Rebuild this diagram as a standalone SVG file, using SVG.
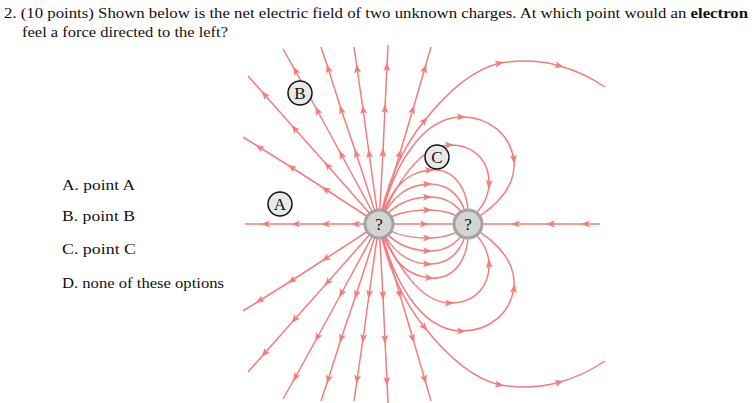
<svg xmlns="http://www.w3.org/2000/svg" width="753" height="403" viewBox="0 0 753 403">
<style>
.t{font-family:"Liberation Serif","DejaVu Serif",serif;font-size:15px;fill:#111}
.f{fill:none;stroke:#f47c7c;stroke-width:1.5;marker-mid:url(#ar)}
.pt{fill:#e8e8e8;stroke:#111;stroke-width:1.5}
.pl{font-family:"Liberation Serif","DejaVu Serif",serif;font-size:17px;fill:#111;text-anchor:middle}
.q{fill:#d4d4d4;stroke:#a3a3a3;stroke-width:3}
</style>
<defs>
<marker id="ar" markerUnits="userSpaceOnUse" markerWidth="12" markerHeight="12" refX="0" refY="0" viewBox="-6 -6 12 12" orient="auto"><path d="M-5,-3.5 L4,0 L-5,3.5 L-3,0 z" fill="#f47c7c"/></marker>
<g id="half">
<polyline class="f" points="379,224 325,189 291,167 259,147 243,137"/>
<polyline class="f" points="379,224 327,165 294,128 264,94 248,76"/>
<polyline class="f" points="379,224 341,154 317,110 295,70 283,49"/>
<polyline class="f" points="379,224 356,153 341,109 328,68 321,47"/>
<polyline class="f" points="379,224 369,153 363,109 357,68 354,47"/>
<polyline class="f" points="379,224 383,152 385,108 387,66 388,45"/>
<polyline class="f" points="379,224 400,153 413,109 425,68 431,47"/>
<path class="f" d="M379,224 C385,190 400,150 425,120 C445,95 470,70 500,63 C520,60 540,60 560,66 C575,70 590,77 605,87"/>
<path class="f" d="M379,224 C392,170 420,117 462,117 C490,117 510,135 514,160 C516,185 500,205 470,222"/>
<path class="f" d="M379,224 C395,185 420,145 450,145 C478,145 490,165 489,185 C488,200 480,210 468,222"/>
<path class="f" d="M379,224 C392,185 408,172 430,170 C455,168 470,190 468,222"/>
<path class="f" d="M379,224 C392,195 408,185 428,184 C450,183 464,198 468,224"/>
<path class="f" d="M379,224 C392,205 408,198 428,197 C448,196 462,208 468,224"/>
<path class="f" d="M379,224 C392,214 408,210 428,210 C446,210 460,216 468,224"/>
</g>
</defs>
<text class="t" x="4" y="18" textLength="744" lengthAdjust="spacingAndGlyphs">2.  (10 points) Shown below is the net electric field of two unknown charges.  At which point would an <tspan font-weight="bold">electron</tspan></text>
<text class="t" x="22" y="37" textLength="206" lengthAdjust="spacingAndGlyphs">feel a force directed to the left?</text>
<text class="t" x="62" y="190" textLength="73" lengthAdjust="spacingAndGlyphs">A.  point A</text>
<text class="t" x="62" y="221" textLength="73" lengthAdjust="spacingAndGlyphs">B.  point B</text>
<text class="t" x="62" y="254" textLength="74" lengthAdjust="spacingAndGlyphs">C.  point C</text>
<text class="t" x="62" y="288" textLength="162" lengthAdjust="spacingAndGlyphs">D.  none of these options</text>
<g id="connectors">
<use href="#half"/>
<use href="#half" transform="matrix(1 0 0 -1 0 448)"/>
<polyline class="f" points="379,224 355,224 325,224 295,224 265,224 245,224"/>
<polyline class="f" points="393,224 425,224 454,224"/>
<polyline class="f" points="600,224 585,224 550,224 515,224 482,224"/>
</g>
<g id="A"><circle class="pt" cx="280" cy="204" r="12"/><text class="pl" x="280" y="210">A</text></g>
<g id="B"><circle class="pt" cx="300" cy="93" r="12"/><text class="pl" x="300" y="99">B</text></g>
<g id="C"><circle class="pt" cx="437" cy="157" r="12"/><text class="pl" x="437" y="163">C</text></g>
<g id="q1"><circle class="q" cx="379" cy="224" r="14"/><text class="pl" x="379" y="230">?</text></g>
<g id="q2"><circle class="q" cx="468" cy="224" r="14"/><text class="pl" x="468" y="230">?</text></g>
</svg>
